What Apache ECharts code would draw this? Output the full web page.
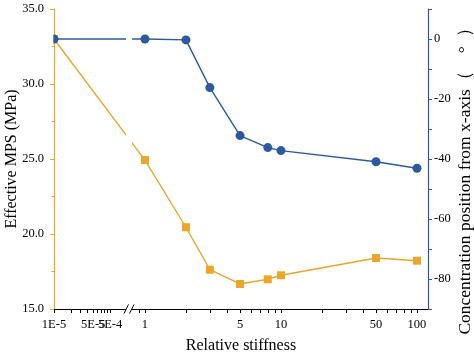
<!DOCTYPE html>
<html>
<head>
<meta charset="utf-8">
<script src="https://cdn.jsdelivr.net/npm/echarts@6/dist/echarts.min.js"></script>
<style>html,body{margin:0;padding:0;background:#fff}#c{width:474px;height:355px}</style>
</head>
<body>
<div id="c"></div>
<script>
// ---- data ----
const xValues = [1e-5, 1, 2, 3, 5, 8, 10, 50, 100];
const mpsValues = [33.0, 24.93, 20.45, 17.62, 16.67, 16.98, 17.25, 18.4, 18.22];
const angleValues = [0, 0, -0.3, -16.2, -32.2, -36.2, -37.2, -40.9, -43.1];
const xTickLabels = ['1E-5', '5E-5', '5E-4', '1', '5', '10', '50', '100'];
const xTickLabelValues = [1e-5, 5e-5, 1e-4, 1, 5, 10, 50, 100];
const xMinorTickValues = [2e-5,3e-5,4e-5,5e-5,6e-5,7e-5,8e-5,9e-5,1e-4,
  0.9,1,2,3,4,5,6,7,8,9,10,20,30,40,50,60,70,80,90,100];

// ---- broken log scale for the x axis (two segments with their own decade widths) ----
const LEFT_DECADE = 0.412;   // width of one decade in the left (1E-5 ..) segment
const RIGHT_OFFSET = 0.669;  // where the value 1 sits in the right segment
function xScale(v) {
  return v < 1e-2 ? LEFT_DECADE * Math.log10(v / 1e-5) : RIGHT_OFFSET + Math.log10(v);
}
const labelMap = {};
xTickLabelValues.forEach((v, i) => { labelMap[xScale(v).toFixed(6)] = xTickLabels[i]; });

const FONT = "'Liberation Serif', 'Times New Roman', serif";
const ORANGE = '#EBA72B';
const BLUE = '#2D5A9E';

const chart = echarts.init(document.getElementById('c'), null, {renderer: 'canvas'});
chart.setOption({
  animation: false,
  backgroundColor: '#fff',
  textStyle: {fontFamily: FONT},
  grid: {left: 54, right: 46, top: 9, bottom: 46, containLabel: false, outerBoundsMode: 'none'},
  xAxis: {
    type: 'value', min: 0, max: 2.75,
    name: 'Relative stiffness', nameLocation: 'middle', nameGap: 29, nameMoveOverlap: false,
    nameTextStyle: {fontFamily: FONT, fontSize: 16, color: '#000'},
    axisLine: {show: true, onZero: false, lineStyle: {color: '#000', width: 1}},
    axisTick: {show: true, length: 4, lineStyle: {color: '#000'},
      customValues: xMinorTickValues.concat([1e-5]).map(xScale)},
    axisLabel: {fontFamily: FONT, fontSize: 12.5, color: '#000', margin: 9,
      customValues: xTickLabelValues.map(xScale),
      formatter: v => labelMap[Number(v).toFixed(6)] || ''},
    splitLine: {show: false}
  },
  yAxis: [{
    type: 'value', min: 15, max: 35, interval: 5, position: 'left',
    name: 'Effective MPS (MPa)', nameLocation: 'middle', nameGap: 34, nameRotate: 90, nameMoveOverlap: false,
    nameTextStyle: {fontFamily: FONT, fontSize: 16, color: '#000'},
    axisLine: {show: true, onZero: false, lineStyle: {color: ORANGE, width: 1.2}},
    axisTick: {show: true, length: 4, lineStyle: {color: ORANGE}},
    minorTick: {show: true, splitNumber: 2, length: 2.5, lineStyle: {color: ORANGE}},
    axisLabel: {fontFamily: FONT, fontSize: 12.5, color: '#000', margin: 10,
      formatter: v => v.toFixed(1)},
    splitLine: {show: false}
  }, {
    type: 'value', min: -90, max: 10, interval: 10, position: 'right',
    name: 'Concentration position from x-axis（\u3000°\u2002）', nameLocation: 'middle', nameGap: 28, nameRotate: 90, nameMoveOverlap: false,
    nameTextStyle: {fontFamily: FONT, fontSize: 17.5, color: '#000', padding: [0, 36, 0, 0]},
    axisLine: {show: true, onZero: false, lineStyle: {color: BLUE, width: 1.2}},
    axisTick: {show: true, length: 4, lineStyle: {color: BLUE}},
    axisLabel: {fontFamily: FONT, fontSize: 12.5, color: '#000', margin: 6,
      formatter: v => (v % 20 === 0 && v <= 0 && v >= -80) ? String(v) : ''},
    splitLine: {show: false}
  }],
  series: [{
    type: 'line', yAxisIndex: 0, name: 'MPS',
    data: xValues.map((x, i) => [xScale(x), mpsValues[i]]),
    symbol: 'rect', symbolSize: 8,
    lineStyle: {color: ORANGE, width: 1.4},
    itemStyle: {color: ORANGE},
    z: 2
  }, {
    type: 'line', yAxisIndex: 1, name: 'Angle',
    data: xValues.map((x, i) => [xScale(x), angleValues[i]]),
    symbol: 'circle', symbolSize: 9,
    lineStyle: {color: BLUE, width: 1.4},
    itemStyle: {color: BLUE},
    z: 3
  }],
  graphic: [
    {type: 'rect', z: 100, shape: {x: 126, y: 4, width: 6, height: 308}, style: {fill: '#fff'}},
    {type: 'rect', z: 100, shape: {x: 47, y: 32, width: 6.3, height: 13}, style: {fill: '#fff'}},
    {type: 'line', z: 101, shape: {x1: 124, y1: 313.5, x2: 128.5, y2: 304.5}, style: {stroke: '#000', lineWidth: 1}},
    {type: 'line', z: 101, shape: {x1: 129.5, y1: 313.5, x2: 134, y2: 304.5}, style: {stroke: '#000', lineWidth: 1}}
  ]
});
</script>
</body>
</html>
